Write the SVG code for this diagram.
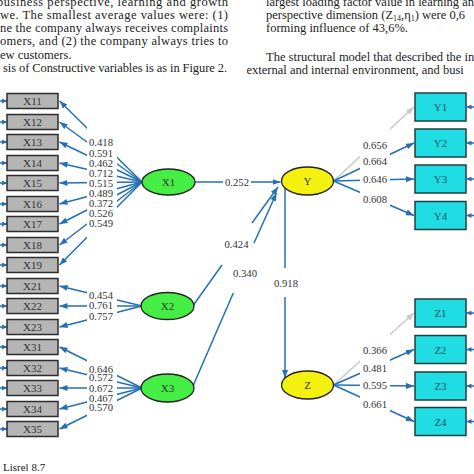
<svg xmlns="http://www.w3.org/2000/svg" width="474" height="474" viewBox="0 0 474 474">
<defs>
<marker id="ah" markerUnits="userSpaceOnUse" markerWidth="8" markerHeight="6" refX="8" refY="3" orient="auto"><path d="M0,0 L8,3 L0,6 z" fill="#2470b5"/></marker>
<marker id="ahg" markerUnits="userSpaceOnUse" markerWidth="8" markerHeight="6" refX="8" refY="3" orient="auto"><path d="M0,0 L8,3 L0,6 z" fill="#c8c8c8"/></marker>
<marker id="ahs" markerUnits="userSpaceOnUse" markerWidth="5" markerHeight="5" refX="5" refY="2.5" orient="auto"><path d="M0,0 L5,2.5 L0,5 z" fill="#2470b5"/></marker>
<style>
.txt{font-family:"Liberation Serif","Times New Roman",serif;font-size:12.5px;fill:#222}
.nm{font-family:"Liberation Serif","Times New Roman",serif;font-size:10.7px;fill:#333;text-anchor:middle}
.bt{font-family:"Liberation Serif","Times New Roman",serif;font-size:11px;fill:#333;text-anchor:middle}
.ct{font-family:"Liberation Serif","Times New Roman",serif;font-size:11px;fill:#1d5560;text-anchor:middle}
.bx{fill:#b5b5b5;stroke:#2d2d2d;stroke-width:1.5}
.cy{fill:#1fdde3;stroke:#1f3f44;stroke-width:1.5}
.g{fill:#44ee44;stroke:#222;stroke-width:1.3}
.yl{fill:#f4f010;stroke:#222;stroke-width:1.3}
.ln{stroke:#2470b5;stroke-width:1.5;fill:none}
.lg{stroke:#c8c8c8;stroke-width:1.5;fill:none}
.er{stroke:#2470b5;stroke-width:1.5;fill:none}
.wb{fill:#ffffff}
</style>
</defs>
<rect width="474" height="474" fill="#ffffff"/>

<g id="page-text">
<text class="txt" x="-3" y="5.5" textLength="231" lengthAdjust="spacing">business perspective, learning and growth</text>
<text class="txt" x="0" y="18.8" textLength="228" lengthAdjust="spacing">we. The smallest average values were: (1)</text>
<text class="txt" x="0" y="32.1" textLength="228" lengthAdjust="spacing">ne the company always receives complaints</text>
<text class="txt" x="0" y="45.4" textLength="228" lengthAdjust="spacing">omers, and (2) the company always tries to</text>
<text class="txt" x="0" y="58.7">ew customers.</text>
<text class="txt" x="3" y="72" textLength="224" lengthAdjust="spacing">sis of Constructive variables is as in Figure 2.</text>
<text class="txt" x="266" y="5.5">largest loading factor value in learning an</text>
<text class="txt" x="266" y="18.8">perspective dimension (Z<tspan font-size="8" dy="2.5">14</tspan><tspan dy="-2.5">,η</tspan><tspan font-size="8" dy="2.5">1</tspan><tspan dy="-2.5">) were 0,6</tspan></text>
<text class="txt" x="266" y="32.1">forming influence of 43,6%.</text>
<text class="txt" x="266" y="60.5">The structural model that described the in</text>
<text class="txt" x="246.5" y="73.8">external and internal environment, and busi</text>
<text class="txt" x="3" y="471" style="font-size:11px">Lisrel 8.7</text>
</g>

<g id="connectors">
<line class="er" x1="0" y1="101" x2="7" y2="101" marker-end="url(#ahs)"/>
<line class="er" x1="0" y1="122" x2="7" y2="122" marker-end="url(#ahs)"/>
<line class="er" x1="0" y1="142" x2="7" y2="142" marker-end="url(#ahs)"/>
<line class="er" x1="0" y1="163" x2="7" y2="163" marker-end="url(#ahs)"/>
<line class="er" x1="0" y1="183" x2="7" y2="183" marker-end="url(#ahs)"/>
<line class="er" x1="0" y1="204" x2="7" y2="204" marker-end="url(#ahs)"/>
<line class="er" x1="0" y1="224" x2="7" y2="224" marker-end="url(#ahs)"/>
<line class="er" x1="0" y1="245" x2="7" y2="245" marker-end="url(#ahs)"/>
<line class="er" x1="0" y1="265" x2="7" y2="265" marker-end="url(#ahs)"/>
<line class="er" x1="0" y1="286" x2="7" y2="286" marker-end="url(#ahs)"/>
<line class="er" x1="0" y1="306" x2="7" y2="306" marker-end="url(#ahs)"/>
<line class="er" x1="0" y1="327" x2="7" y2="327" marker-end="url(#ahs)"/>
<line class="er" x1="0" y1="347" x2="7" y2="347" marker-end="url(#ahs)"/>
<line class="er" x1="0" y1="368" x2="7" y2="368" marker-end="url(#ahs)"/>
<line class="er" x1="0" y1="388" x2="7" y2="388" marker-end="url(#ahs)"/>
<line class="er" x1="0" y1="409" x2="7" y2="409" marker-end="url(#ahs)"/>
<line class="er" x1="0" y1="429" x2="7" y2="429" marker-end="url(#ahs)"/>
<line class="er" x1="474" y1="107" x2="466.5" y2="107" marker-end="url(#ahs)"/>
<line class="er" x1="474" y1="143" x2="466.5" y2="143" marker-end="url(#ahs)"/>
<line class="er" x1="474" y1="179" x2="466.5" y2="179" marker-end="url(#ahs)"/>
<line class="er" x1="474" y1="215.5" x2="466.5" y2="215.5" marker-end="url(#ahs)"/>
<line class="er" x1="474" y1="313" x2="466.5" y2="313" marker-end="url(#ahs)"/>
<line class="er" x1="474" y1="349.5" x2="466.5" y2="349.5" marker-end="url(#ahs)"/>
<line class="er" x1="474" y1="386" x2="466.5" y2="386" marker-end="url(#ahs)"/>
<line class="er" x1="474" y1="421.5" x2="466.5" y2="421.5" marker-end="url(#ahs)"/>

<line class="ln" x1="142" y1="182" x2="59.5" y2="101" marker-end="url(#ah)"/>
<line class="ln" x1="142" y1="182" x2="59.5" y2="122" marker-end="url(#ah)"/>
<line class="ln" x1="142" y1="182" x2="59.5" y2="142" marker-end="url(#ah)"/>
<line class="ln" x1="142" y1="182" x2="59.5" y2="163" marker-end="url(#ah)"/>
<line class="ln" x1="142" y1="182" x2="59.5" y2="183" marker-end="url(#ah)"/>
<line class="ln" x1="142" y1="182" x2="59.5" y2="204" marker-end="url(#ah)"/>
<line class="ln" x1="142" y1="182" x2="59.5" y2="224" marker-end="url(#ah)"/>
<line class="ln" x1="142" y1="182" x2="59.5" y2="245" marker-end="url(#ah)"/>
<line class="ln" x1="142" y1="182" x2="59.5" y2="265" marker-end="url(#ah)"/>
<line class="ln" x1="142" y1="306" x2="59.5" y2="286" marker-end="url(#ah)"/>
<line class="ln" x1="142" y1="306" x2="59.5" y2="306" marker-end="url(#ah)"/>
<line class="ln" x1="142" y1="306" x2="59.5" y2="327" marker-end="url(#ah)"/>
<line class="ln" x1="142" y1="388" x2="59.5" y2="347" marker-end="url(#ah)"/>
<line class="ln" x1="142" y1="388" x2="59.5" y2="368" marker-end="url(#ah)"/>
<line class="ln" x1="142" y1="388" x2="59.5" y2="388" marker-end="url(#ah)"/>
<line class="ln" x1="142" y1="388" x2="59.5" y2="409" marker-end="url(#ah)"/>
<line class="ln" x1="142" y1="388" x2="59.5" y2="429" marker-end="url(#ah)"/>
<line class="lg" x1="333.5" y1="181" x2="414" y2="107" marker-end="url(#ahg)"/>
<line class="ln" x1="333.5" y1="181" x2="414" y2="143" marker-end="url(#ah)"/>
<line class="ln" x1="333.5" y1="181" x2="414" y2="179" marker-end="url(#ah)"/>
<line class="ln" x1="333.5" y1="181" x2="414" y2="215.5" marker-end="url(#ah)"/>
<line class="lg" x1="333.5" y1="385" x2="414" y2="313" marker-end="url(#ahg)"/>
<line class="ln" x1="333.5" y1="385" x2="414" y2="349.5" marker-end="url(#ah)"/>
<line class="ln" x1="333.5" y1="385" x2="414" y2="386" marker-end="url(#ah)"/>
<line class="ln" x1="333.5" y1="385" x2="414" y2="421.5" marker-end="url(#ah)"/>

<rect class="wb" x="87" y="126" width="30" height="113"/>
<rect class="wb" x="87" y="290" width="30" height="33"/>
<rect class="wb" x="87" y="358" width="30" height="59"/>
<rect class="wb" x="360" y="127" width="30" height="80"/>
<rect class="wb" x="360" y="332" width="30" height="80"/>

<line class="ln" x1="195" y1="182" x2="223" y2="182"/>
<line class="ln" x1="251" y1="182" x2="280.5" y2="182" marker-end="url(#ah)"/>
<line class="ln" x1="193.5" y1="305" x2="222" y2="265"/>
<line class="ln" x1="252" y1="223" x2="278" y2="187" marker-end="url(#ah)"/>
<line class="ln" x1="193" y1="386" x2="233.3" y2="293"/>
<line class="ln" x1="254" y1="243" x2="276.5" y2="193" marker-end="url(#ah)"/>
<line class="ln" x1="285" y1="188" x2="285" y2="268"/>
<line class="ln" x1="285" y1="297" x2="285" y2="378" marker-end="url(#ah)"/>

<text class="nm" x="101" y="145.7">0.418</text>
<text class="nm" x="101" y="157.2">0.591</text>
<text class="nm" x="101" y="167.2">0.462</text>
<text class="nm" x="101" y="177.2">0.712</text>
<text class="nm" x="101" y="187.2">0.515</text>
<text class="nm" x="101" y="196.7">0.489</text>
<text class="nm" x="101" y="206.7">0.372</text>
<text class="nm" x="101" y="217.2">0.526</text>
<text class="nm" x="101" y="226.7">0.549</text>
<text class="nm" x="101" y="299.2">0.454</text>
<text class="nm" x="101" y="309.2">0.761</text>
<text class="nm" x="101" y="319.7">0.757</text>
<text class="nm" x="101" y="372.7">0.646</text>
<text class="nm" x="101" y="381.2">0.572</text>
<text class="nm" x="101" y="391.7">0.672</text>
<text class="nm" x="101" y="401.7">0.467</text>
<text class="nm" x="101" y="411.2">0.570</text>
<text class="nm" x="375" y="148.7">0.656</text>
<text class="nm" x="375" y="164.7">0.664</text>
<text class="nm" x="375" y="183.2">0.646</text>
<text class="nm" x="375" y="202.7">0.608</text>
<text class="nm" x="375" y="353.7">0.366</text>
<text class="nm" x="375" y="371.7">0.481</text>
<text class="nm" x="375" y="389.2">0.595</text>
<text class="nm" x="375" y="407.7">0.661</text>
<text class="nm" x="237" y="185.7">0.252</text>
<text class="nm" x="236.5" y="247.7">0.424</text>
<text class="nm" x="245" y="276.7">0.340</text>
<text class="nm" x="286" y="287.2">0.918</text>
</g>

<g id="X11"><rect class="bx" x="7" y="93.5" width="51" height="15"/><text class="bt" x="32.5" y="105">X11</text></g>
<g id="X12"><rect class="bx" x="7" y="114.5" width="51" height="15"/><text class="bt" x="32.5" y="126">X12</text></g>
<g id="X13"><rect class="bx" x="7" y="134.5" width="51" height="15"/><text class="bt" x="32.5" y="146">X13</text></g>
<g id="X14"><rect class="bx" x="7" y="155.5" width="51" height="15"/><text class="bt" x="32.5" y="167">X14</text></g>
<g id="X15"><rect class="bx" x="7" y="175.5" width="51" height="15"/><text class="bt" x="32.5" y="187">X15</text></g>
<g id="X16"><rect class="bx" x="7" y="196.5" width="51" height="15"/><text class="bt" x="32.5" y="208">X16</text></g>
<g id="X17"><rect class="bx" x="7" y="216.5" width="51" height="15"/><text class="bt" x="32.5" y="228">X17</text></g>
<g id="X18"><rect class="bx" x="7" y="237.5" width="51" height="15"/><text class="bt" x="32.5" y="249">X18</text></g>
<g id="X19"><rect class="bx" x="7" y="257.5" width="51" height="15"/><text class="bt" x="32.5" y="269">X19</text></g>
<g id="X21"><rect class="bx" x="7" y="278.5" width="51" height="15"/><text class="bt" x="32.5" y="290">X21</text></g>
<g id="X22"><rect class="bx" x="7" y="298.5" width="51" height="15"/><text class="bt" x="32.5" y="310">X22</text></g>
<g id="X23"><rect class="bx" x="7" y="319.5" width="51" height="15"/><text class="bt" x="32.5" y="331">X23</text></g>
<g id="X31"><rect class="bx" x="7" y="339.5" width="51" height="15"/><text class="bt" x="32.5" y="351">X31</text></g>
<g id="X32"><rect class="bx" x="7" y="360.5" width="51" height="15"/><text class="bt" x="32.5" y="372">X32</text></g>
<g id="X33"><rect class="bx" x="7" y="380.5" width="51" height="15"/><text class="bt" x="32.5" y="392">X33</text></g>
<g id="X34"><rect class="bx" x="7" y="401.5" width="51" height="15"/><text class="bt" x="32.5" y="413">X34</text></g>
<g id="X35"><rect class="bx" x="7" y="421.5" width="51" height="15"/><text class="bt" x="32.5" y="433">X35</text></g>

<g id="X1"><ellipse class="g" cx="168.5" cy="182" rx="26.5" ry="13"/><text class="bt" x="168.5" y="186">X1</text></g>
<g id="X2"><ellipse class="g" cx="167.5" cy="306" rx="26.5" ry="13.5"/><text class="bt" x="167.5" y="310">X2</text></g>
<g id="X3"><ellipse class="g" cx="167.5" cy="388" rx="26.5" ry="14"/><text class="bt" x="167.5" y="392">X3</text></g>
<g id="Y"><ellipse class="yl" cx="307.5" cy="181" rx="26" ry="14"/><text class="bt" x="307.5" y="185">Y</text></g>
<g id="Z"><ellipse class="yl" cx="307.5" cy="385" rx="26" ry="14"/><text class="bt" x="307.5" y="389">Z</text></g>

<g id="Y1"><rect class="cy" x="415" y="93" width="51" height="28"/><text class="ct" x="440.5" y="111">Y1</text></g>
<g id="Y2"><rect class="cy" x="415" y="129" width="51" height="28"/><text class="ct" x="440.5" y="147">Y2</text></g>
<g id="Y3"><rect class="cy" x="415" y="165" width="51" height="28"/><text class="ct" x="440.5" y="183">Y3</text></g>
<g id="Y4"><rect class="cy" x="415" y="201.5" width="51" height="28"/><text class="ct" x="440.5" y="219.5">Y4</text></g>
<g id="Z1"><rect class="cy" x="415" y="299" width="51" height="28"/><text class="ct" x="440.5" y="317">Z1</text></g>
<g id="Z2"><rect class="cy" x="415" y="335.5" width="51" height="28"/><text class="ct" x="440.5" y="353.5">Z2</text></g>
<g id="Z3"><rect class="cy" x="415" y="372" width="51" height="28"/><text class="ct" x="440.5" y="390">Z3</text></g>
<g id="Z4"><rect class="cy" x="415" y="407.5" width="51" height="28"/><text class="ct" x="440.5" y="425.5">Z4</text></g>
</svg>
